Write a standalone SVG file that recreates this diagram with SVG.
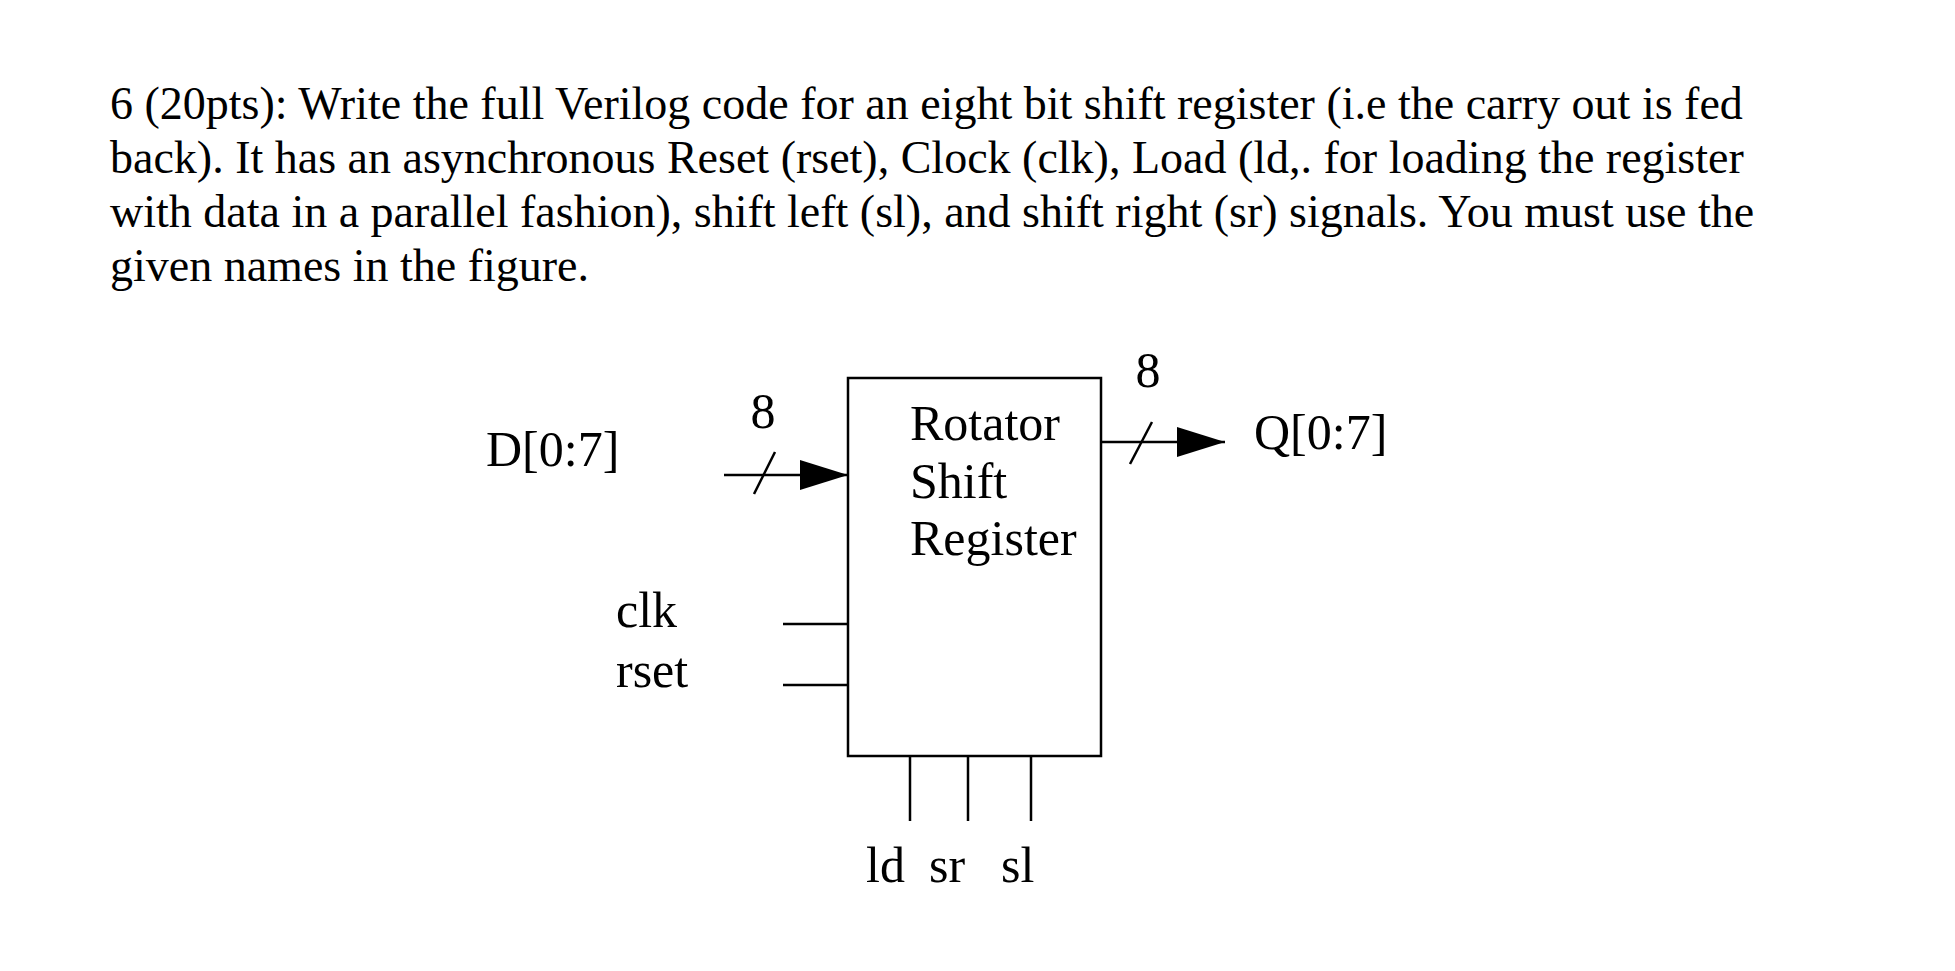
<svg xmlns="http://www.w3.org/2000/svg" width="1955" height="971" viewBox="0 0 1955 971">
<style>
text{font-family:"Liberation Serif","Times New Roman",serif;fill:#000}
.t{font-size:46px}
.d{font-size:50px}
.w{stroke:#000;stroke-width:2.5;fill:none}
</style>
<defs><marker id="ah" markerUnits="userSpaceOnUse" markerWidth="50" markerHeight="30" refX="48" refY="15" orient="auto"><path d="M0,0 L48,15 L0,30 Z" fill="#000"/></marker></defs>
<rect width="1955" height="971" fill="#fff"/>
<g id="question" class="t">
<text x="110" y="119">6 (20pts): Write the full Verilog code for an eight bit shift register (i.e the carry out is fed</text>
<text x="110" y="173">back). It has an asynchronous Reset (rset), Clock (clk), Load (ld,. for loading the register</text>
<text x="110" y="227">with data in a parallel fashion), shift left (sl), and shift right (sr) signals. You must use the</text>
<text x="110" y="281">given names in the figure.</text>
</g>
<g id="register">
<rect x="848" y="378" width="253" height="378" class="w"/>
<text class="d" x="910" y="440">Rotator</text>
<text class="d" x="910" y="498">Shift</text>
<text class="d" x="910" y="555">Register</text>
</g>
<g id="labels" class="d">
<text x="486" y="466">D[0:7]</text>
<text x="763" y="428" text-anchor="middle">8</text>
<text x="1148" y="387" text-anchor="middle">8</text>
<text x="1254" y="449">Q[0:7]</text>
<text x="616" y="627">clk</text>
<text x="616" y="687">rset</text>
<text x="866" y="882">ld</text>
<text x="929" y="882">sr</text>
<text x="1001" y="882">sl</text>
</g>
<g id="connectors" class="w">
<line x1="724" y1="475" x2="848" y2="475" marker-end="url(#ah)"/>
<line x1="754" y1="494" x2="775" y2="452"/>
<line x1="1101" y1="442" x2="1225" y2="442" marker-end="url(#ah)"/>
<line x1="1130" y1="464" x2="1152" y2="422"/>
<line x1="783" y1="624" x2="848" y2="624"/>
<line x1="783" y1="685" x2="848" y2="685"/>
<line x1="910" y1="756" x2="910" y2="821"/>
<line x1="968" y1="756" x2="968" y2="821"/>
<line x1="1031" y1="756" x2="1031" y2="821"/>
</g>
</svg>
